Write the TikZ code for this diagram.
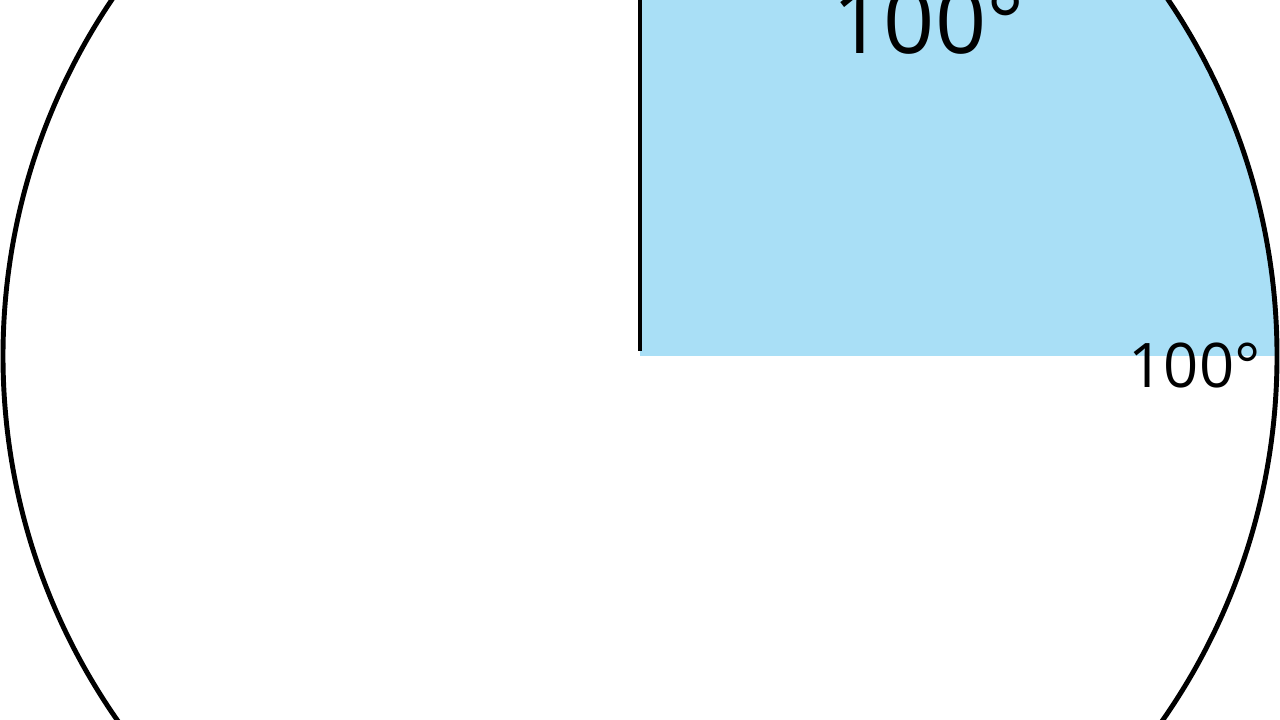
\documentclass[tikz,border=0pt]{standalone}
\usepackage{fontspec}
\setmainfont{Open Sans}
\usetikzlibrary{positioning}
\definecolor{sectorblue}{HTML}{A9DFF6}
\tikzset{%
	angle label/.style={
		inner sep=0pt,
		anchor=base west
	},
}
\begin{document}
\begin{tikzpicture}[
			rim/.style={draw=black, line width=1.4pt},
			every node/.style={font=\fontsize{17.5}{20}\selectfont}
			]
			\useasboundingbox (0,0) rectangle (12.8,7.2);
			\clip (0,0) rectangle (12.8,7.2);
			
			% Centre and sector
			\coordinate (O) at (6.40,3.64);
			\coordinate (E) at (12.77,3.64);
			\coordinate (N) at (6.40,10.01);
			\fill[sectorblue] (O) -- (E) arc[start angle=0, end angle=90, radius=6.37] -- cycle;
			\draw[rim] (O) circle[radius=6.37];
			\draw[rim] (6.40,3.69) -- (N);
			
			% Labels
			\node[angle label, font=\fontsize{25.5}{30}\selectfont] (top) at (8.32,6.66) {100°};
			\node[angle label] (side) at (11.28,3.32) {100°};
			
		\end{tikzpicture}
\end{document}
